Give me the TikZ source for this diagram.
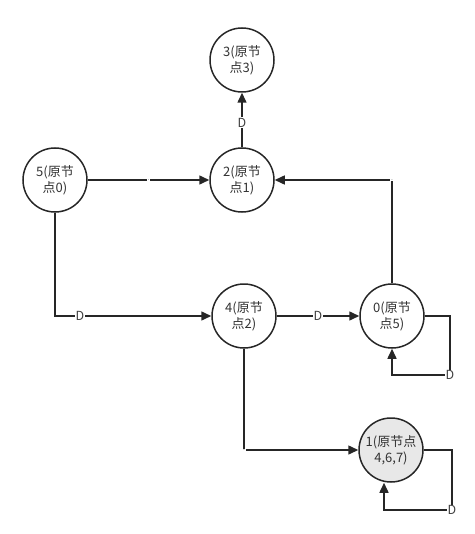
\documentclass[tikz,border=0pt]{standalone}
\usepackage{fontspec}
\setmainfont{Noto Sans CJK SC}
\usetikzlibrary{arrows.meta}

\tikzset{
  state/.style={circle,draw=black!85,line width=1.5pt,minimum size=64pt,inner sep=0pt,
    align=center,font=\fontsize{13}{16}\selectfont,text=black!80},
  edge/.style={draw=black!85,line width=1.5pt,-{Triangle[length=10pt,width=9pt]}},
  lbl/.style={fill=white,inner sep=0.8pt,font=\fontsize{12.5}{14}\selectfont,text=black!75},
  dot/.style={fill=white,inner sep=0.6pt,font=\fontsize{7}{8}\selectfont,text=black!60}
}

\begin{document}
\begin{tikzpicture}[x=1pt,y=-1pt]
\useasboundingbox (0,0) rectangle (474,534);

\node[state] (n3) at (242,60) {3(原节\\点3)};
\node[state] (n2) at (242,180) {2(原节\\点1)};
\node[state] (n5) at (55,180) {5(原节\\点0)};
\node[state] (n4) at (244,316) {4(原节\\点2)};
\node[state] (n0) at (392,316) {0(原节\\点5)};
\node[state,fill=black!9] (n1) at (391,450) {1(原节点\\4,6,7)};

\coordinate (l0) at (450,375);
\coordinate (l1) at (452,510);

\draw[edge] (n2) -- node[lbl,pos=0.45]{D} (n3);
\draw[edge] (n5) -- node[dot,pos=0.5]{.} (n2);
\draw[edge] (n5.south) |- node[lbl,pos=0.58]{D} (n4.west);
\draw[edge] (n0.north) |- node[dot,pos=0.5]{.} (n2.east);
\draw[edge] (n4) -- node[lbl,pos=0.5]{D} (n0);
\draw[edge] (n4.south) |- node[dot,pos=0.5]{.} (n1.west);
\draw[edge] (n0.east) -| (l0) node[lbl]{D} -| (n0.south);
\draw[edge] (n1.east) -| (l1) node[lbl]{D} -| ([xshift=-7pt]n1.south);
\end{tikzpicture}
\end{document}
